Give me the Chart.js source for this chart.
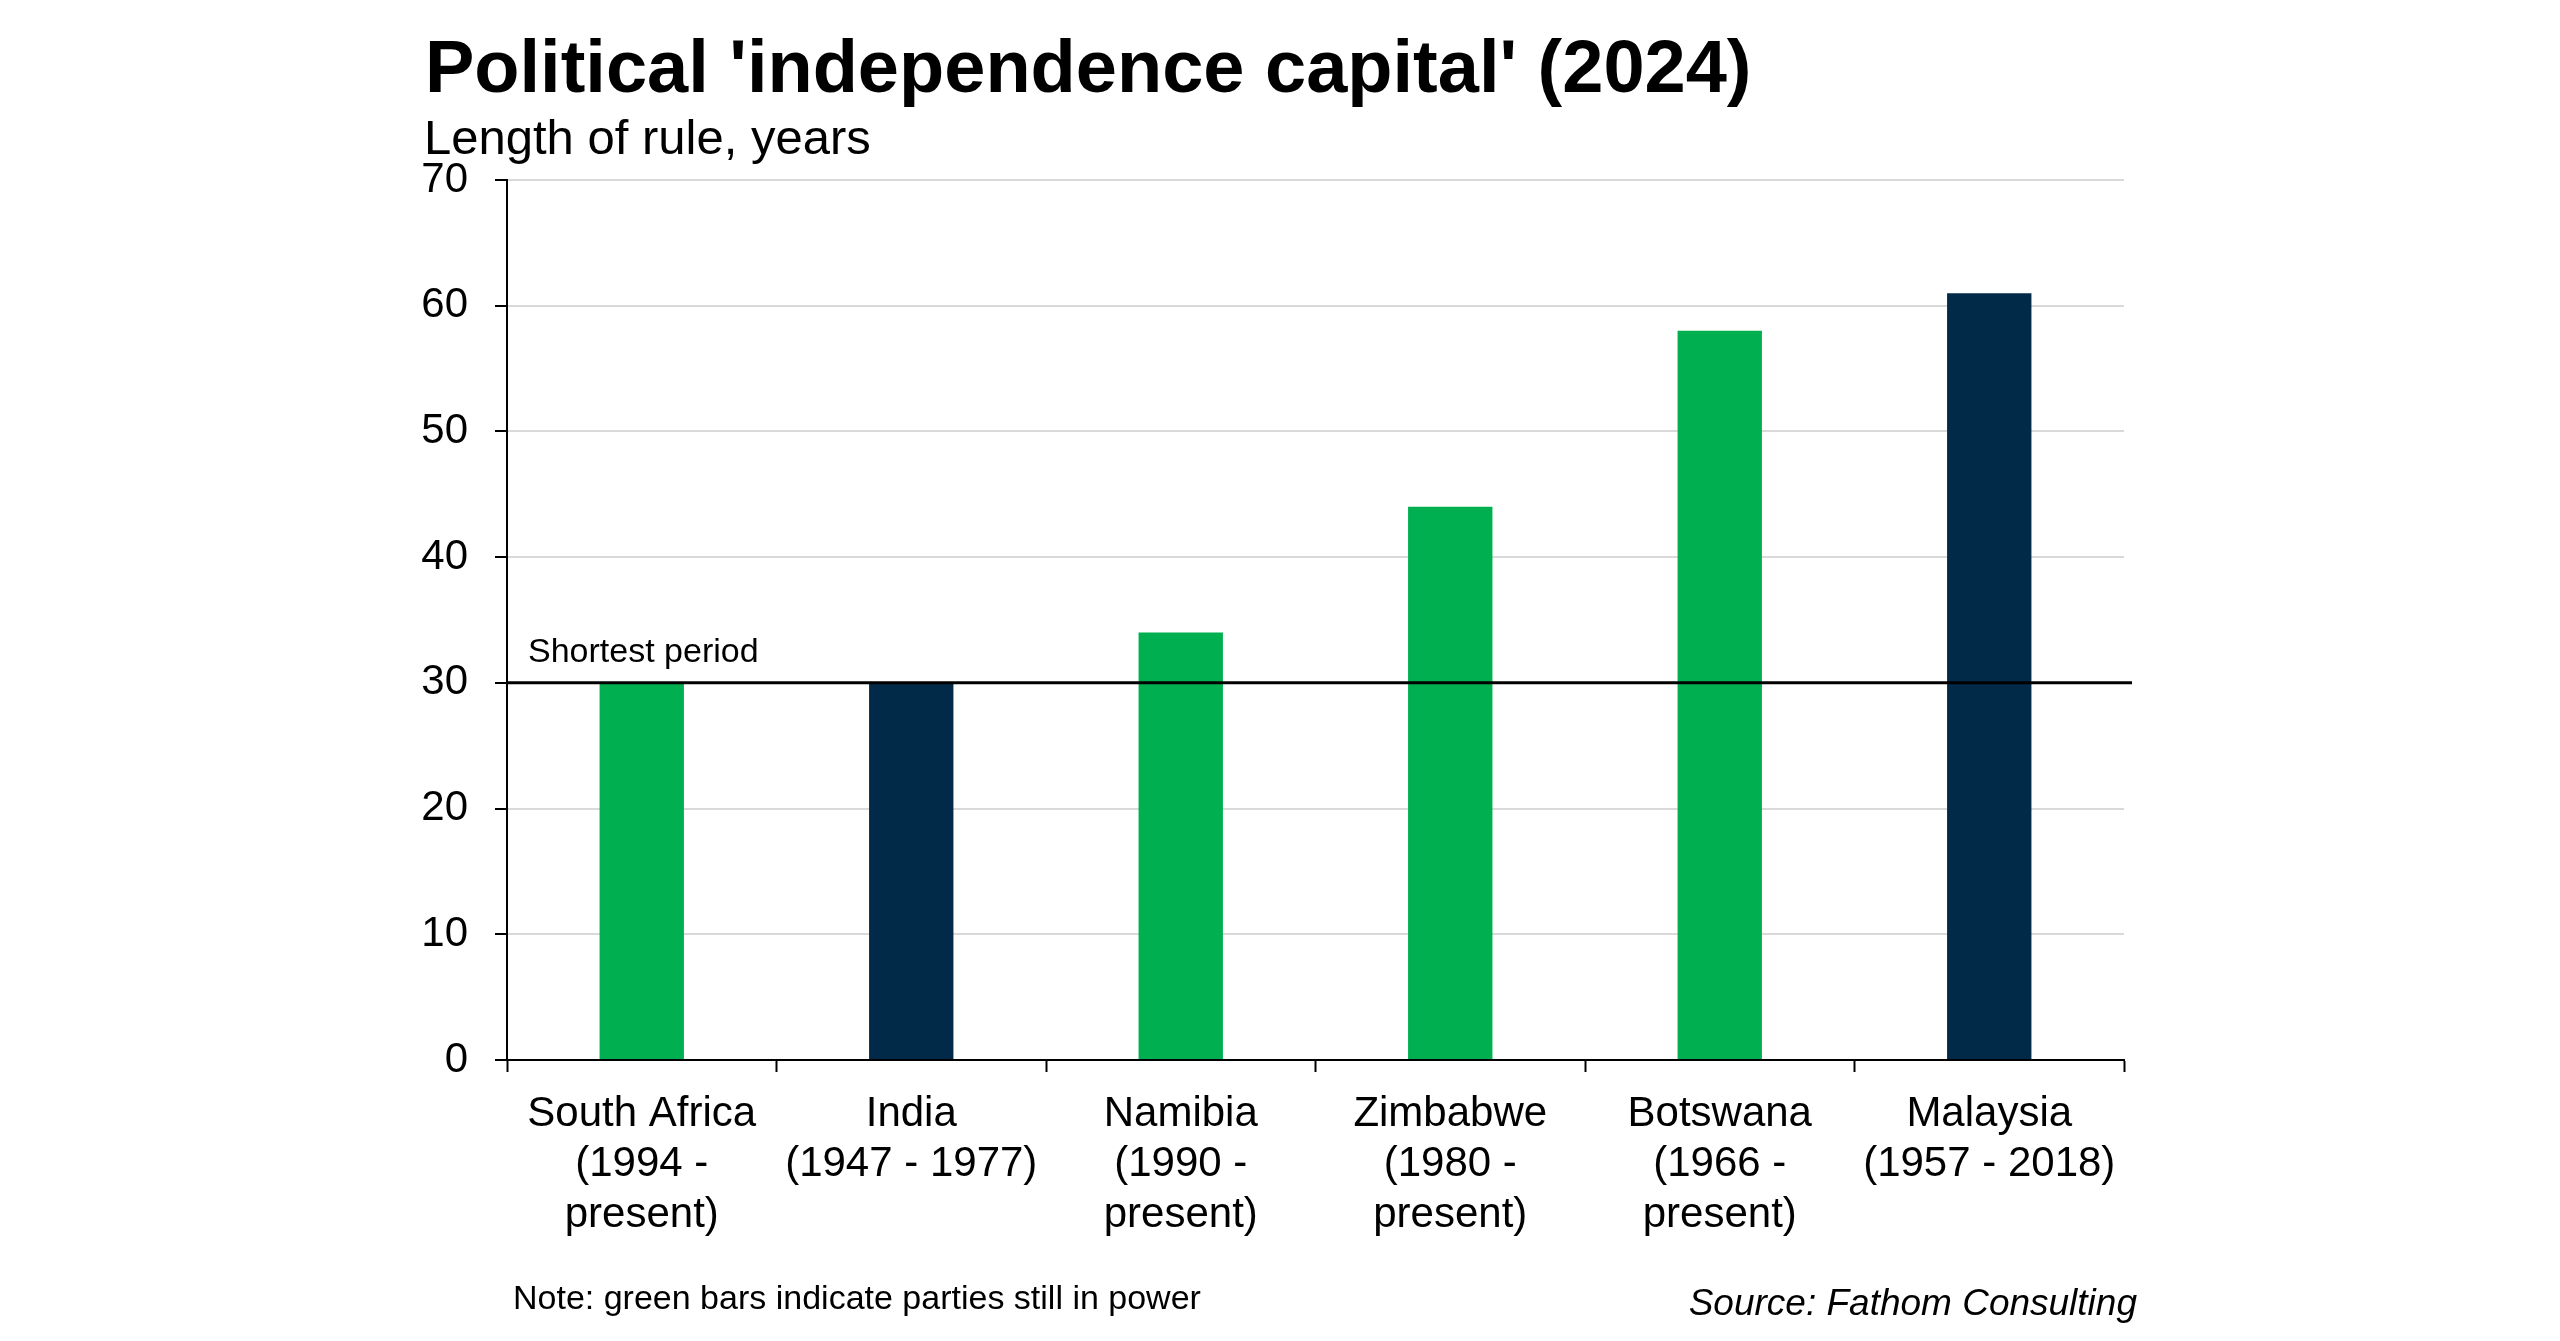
<!DOCTYPE html>
<html>
<head>
<meta charset="utf-8">
<title>Political 'independence capital' (2024)</title>
<script src="https://cdn.jsdelivr.net/npm/chart.js@4.4.1/dist/chart.umd.min.js"></script>
<style>
  html, body { margin: 0; padding: 0; background: #ffffff; }
  canvas { display: block; }
</style>
</head>
<body>
<canvas id="grafica" width="2560" height="1341"></canvas>
<script>
// data
var countries = [
  ['South Africa', '(1994 -', 'present)'],
  ['India', '(1947 - 1977)'],
  ['Namibia', '(1990 -', 'present)'],
  ['Zimbabwe', '(1980 -', 'present)'],
  ['Botswana', '(1966 -', 'present)'],
  ['Malaysia', '(1957 - 2018)']
];
var yearsInPower = [30, 30, 34, 44, 58, 61];
var stillInPower = [true, false, true, true, true, false];
var shortestPeriod = 30;
var yTicks = [0, 10, 20, 30, 40, 50, 60, 70];

var titulo = "Political 'independence capital' (2024)";
var subtitulo = 'Length of rule, years';
var nota = 'Note: green bars indicate parties still in power';
var fuente = 'Source: Fathom Consulting';

var verde = '#00b050';
var azul = '#002a48';
var fuenteTxt = '"Liberation Sans", Arial, sans-serif';

var coloresBarras = stillInPower.map(function (s) { return s ? verde : azul; });

// line at the shortest period + all the loose text
var extras = {
  id: 'extras',
  afterDatasetsDraw: function (chart) {
    var ctx = chart.ctx;
    var area = chart.chartArea;
    var y = chart.scales.y.getPixelForValue(shortestPeriod);
    ctx.save();
    ctx.strokeStyle = '#000000';
    ctx.lineWidth = 3;
    ctx.beginPath();
    ctx.moveTo(area.left, y);
    ctx.lineTo(area.right + 8, y);
    ctx.stroke();
    ctx.fillStyle = '#000000';
    ctx.font = '34px ' + fuenteTxt;
    ctx.textAlign = 'left';
    ctx.textBaseline = 'alphabetic';
    ctx.fillText('Shortest period', area.left + 21, y - 21);
    ctx.restore();
  },
  afterDraw: function (chart) {
    var ctx = chart.ctx;
    ctx.save();
    ctx.fillStyle = '#000000';
    ctx.textBaseline = 'alphabetic';
    ctx.textAlign = 'left';
    ctx.font = 'bold 74px ' + fuenteTxt;
    ctx.fillText(titulo, 425, 92);
    ctx.font = '49px ' + fuenteTxt;
    ctx.fillText(subtitulo, 424, 154);
    ctx.font = '34px ' + fuenteTxt;
    ctx.fillText(nota, 513, 1309);
    ctx.font = 'italic 37px ' + fuenteTxt;
    ctx.textAlign = 'right';
    ctx.fillText(fuente, 2137, 1315);
    ctx.restore();
  }
};

var miCanvas = document.getElementById('grafica').getContext('2d');

var chart = new Chart(miCanvas, {
  type: 'bar',
  data: {
    labels: countries,
    datasets: [
      {
        label: 'Length of rule',
        data: yearsInPower,
        backgroundColor: coloresBarras,
        borderWidth: 0,
        barPercentage: 0.313,
        categoryPercentage: 1
      }
    ]
  },
  options: {
    responsive: false,
    devicePixelRatio: 1,
    animation: false,
    layout: { padding: { top: 180, right: 436, bottom: 0, left: 0 } },
    plugins: {
      legend: { display: false },
      tooltip: { enabled: false },
      title: { display: false }
    },
    scales: {
      x: {
        afterFit: function (scale) { scale.height = 281; },
        grid: {
          offset: true,
          drawOnChartArea: false,
          drawTicks: true,
          tickLength: 12,
          tickColor: '#000000',
          tickWidth: 2
        },
        border: { color: '#000000', width: 2 },
        ticks: {
          color: '#000000',
          font: { family: fuenteTxt, size: 42, lineHeight: 1.2 },
          padding: 17,
          maxRotation: 0,
          autoSkip: false
        }
      },
      y: {
        min: 0,
        max: 70,
        afterFit: function (scale) { scale.width = 507; },
        afterBuildTicks: function (scale) {
          scale.ticks = yTicks.map(function (v) { return { value: v }; });
        },
        grid: {
          color: '#d9d9d9',
          lineWidth: 2,
          drawTicks: true,
          tickLength: 12,
          tickColor: '#000000',
          tickWidth: 2
        },
        border: { color: '#000000', width: 2 },
        ticks: {
          color: '#000000',
          font: { family: fuenteTxt, size: 42 },
          padding: 27
        }
      }
    }
  },
  plugins: [extras]
});
</script>
</body>
</html>
